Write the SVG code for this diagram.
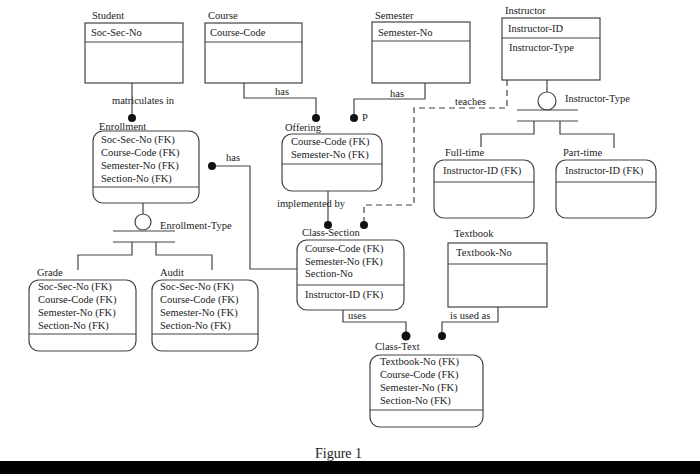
<svg xmlns="http://www.w3.org/2000/svg" width="700" height="474" viewBox="0 0 700 474">
<style>
text{font-family:"Liberation Serif",serif;font-size:10.5px;fill:#222}
.b{fill:#fff;stroke:#444;stroke-width:1.2}
.l{fill:none;stroke:#444;stroke-width:1.2}
.d{fill:none;stroke:#444;stroke-width:1.2;stroke-dasharray:6,4}
.dot{fill:#111}
</style>
<rect width="700" height="474" fill="#fff"/>
<g id="student"><text x="92" y="19">Student</text><rect class="b" x="85" y="23" width="98" height="60"/><line class="l" x1="85" y1="42" x2="183" y2="42"/><text x="91" y="36">Soc-Sec-No</text></g>
<g id="course"><text x="208" y="19">Course</text><rect class="b" x="205" y="23" width="97" height="60"/><line class="l" x1="205" y1="42" x2="302" y2="42"/><text x="210" y="36">Course-Code</text></g>
<g id="semester"><text x="375" y="19">Semester</text><rect class="b" x="372" y="22" width="98" height="61"/><line class="l" x1="372" y1="41" x2="470" y2="41"/><text x="378" y="36">Semester-No</text></g>
<g id="instructor"><text x="505" y="14">Instructor</text><rect class="b" x="502" y="18" width="98" height="62"/><line class="l" x1="502" y1="38" x2="600" y2="38"/><text x="508" y="32">Instructor-ID</text><text x="509" y="51">Instructor-Type</text></g>
<g id="enrollment"><text x="99" y="130">Enrollment</text><rect class="b" x="93" y="131" width="106" height="72" rx="10"/><line class="l" x1="93" y1="187" x2="199" y2="187"/><text x="101" y="143">Soc-Sec-No (FK)</text><text x="101" y="156">Course-Code (FK)</text><text x="101" y="169">Semester-No (FK)</text><text x="101" y="182">Section-No (FK)</text></g>
<g id="offering"><text x="285" y="131">Offering</text><rect class="b" x="282" y="134" width="100" height="57" rx="10"/><line class="l" x1="282" y1="164" x2="382" y2="164"/><text x="291" y="145">Course-Code (FK)</text><text x="291" y="158">Semester-No (FK)</text></g>
<g id="fulltime"><text x="445" y="156">Full-time</text><rect class="b" x="434" y="160" width="100" height="58" rx="10"/><line class="l" x1="434" y1="182" x2="534" y2="182"/><text x="443" y="174">Instructor-ID (FK)</text></g>
<g id="parttime"><text x="563" y="156">Part-time</text><rect class="b" x="556" y="160" width="100" height="58" rx="10"/><line class="l" x1="556" y1="182" x2="656" y2="182"/><text x="565" y="174">Instructor-ID (FK)</text></g>
<g id="classsection"><text x="302" y="236">Class-Section</text><rect class="b" x="297" y="240" width="107" height="70" rx="10"/><line class="l" x1="297" y1="285" x2="404" y2="285"/><text x="305" y="252">Course-Code (FK)</text><text x="305" y="265">Semester-No (FK)</text><text x="305" y="277">Section-No</text><text x="305" y="298">Instructor-ID (FK)</text></g>
<g id="textbook"><text x="454" y="237">Textbook</text><rect class="b" x="448" y="243" width="99" height="64"/><line class="l" x1="448" y1="264" x2="547" y2="264"/><text x="456" y="256">Textbook-No</text></g>
<g id="classtext"><text x="375" y="350">Class-Text</text><rect class="b" x="370" y="355" width="113" height="72" rx="10"/><line class="l" x1="370" y1="410" x2="483" y2="410"/><text x="380" y="365">Textbook-No (FK)</text><text x="380" y="378">Course-Code (FK)</text><text x="380" y="391">Semester-No (FK)</text><text x="380" y="404">Section-No (FK)</text></g>
<g id="grade"><text x="37" y="276">Grade</text><rect class="b" x="29" y="280" width="107" height="71" rx="10"/><line class="l" x1="29" y1="334" x2="136" y2="334"/><text x="38" y="290">Soc-Sec-No (FK)</text><text x="38" y="303">Course-Code (FK)</text><text x="38" y="316">Semester-No (FK)</text><text x="38" y="329">Section-No (FK)</text></g>
<g id="audit"><text x="160" y="276">Audit</text><rect class="b" x="152" y="280" width="106" height="71" rx="10"/><line class="l" x1="152" y1="334" x2="258" y2="334"/><text x="160" y="290">Soc-Sec-No (FK)</text><text x="160" y="303">Course-Code (FK)</text><text x="160" y="316">Semester-No (FK)</text><text x="160" y="329">Section-No (FK)</text></g>
<g id="connectors">
<path class="l" d="M132,83V118"/><circle class="dot" cx="132" cy="118" r="4"/><text x="112" y="104">matriculates in</text>
<path class="l" d="M244,83V98H316V118"/><circle class="dot" cx="316" cy="118" r="4"/><text x="275" y="95">has</text>
<path class="l" d="M425,83V99H354V118"/><circle class="dot" cx="354" cy="118" r="4"/><text x="362" y="121">P</text><text x="390" y="97">has</text>
<path class="d" d="M507,80V108H414V205H364V225"/><circle class="dot" cx="364" cy="225" r="4"/><text x="455" y="105">teaches</text>
<path class="l" d="M328,191V225"/><circle class="dot" cx="328" cy="225" r="4"/><text x="277" y="207">implemented by</text>
<path class="l" d="M212,166H250V269H297"/><circle class="dot" cx="212" cy="166" r="4"/><text x="226" y="161">has</text>
<path class="l" d="M143,203V214"/><circle class="l" cx="143" cy="222" r="8"/><path class="l" d="M113,231H175M113,242H175M132,242V255H78V270M156,242V255H212V270"/><text x="160" y="229">Enrollment-Type</text>
<path class="l" d="M547,80V92"/><circle class="l" cx="547" cy="101" r="9"/><path class="l" d="M517,110H578M517,121H578M534,121V134H481V147M560,121V134H614V148"/><text x="565" y="102">Instructor-Type</text>
<path class="l" d="M343,310V322H406V336"/><circle class="dot" cx="406" cy="336" r="4.5"/><text x="348" y="319">uses</text>
<path class="l" d="M498,307V322H442V336"/><circle class="dot" cx="442" cy="336" r="4"/><text x="450" y="319">is used as</text>
</g>
<text x="315" y="458" style="font-size:14px">Figure 1</text>
<rect x="0" y="461" width="700" height="13" fill="#000"/>
</svg>
